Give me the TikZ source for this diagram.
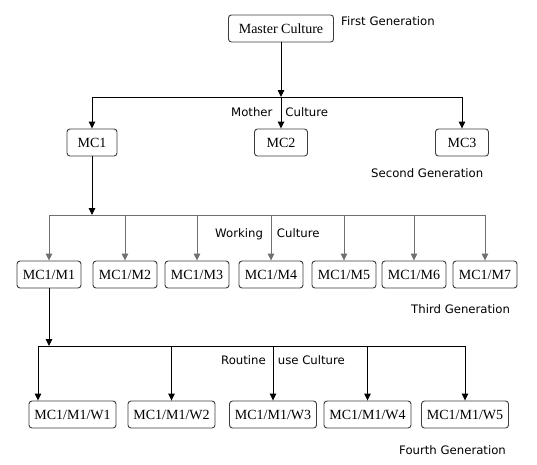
\documentclass[tikz,border=0pt]{standalone}
\usepackage{fontspec}
\setmainfont{Liberation Serif}
\newfontfamily\labelfont{DejaVu Sans}
\usetikzlibrary{arrows.meta, positioning}
\definecolor{BoxColor}{RGB}{60,60,60}
\definecolor{LinkColor}{RGB}{0,0,0}
\definecolor{GreyLinkColor}{RGB}{112,112,112}
\tikzstyle{culture} = [draw=BoxColor, rounded corners=3pt, minimum height=27pt, inner xsep=4pt, line width=0.9pt, font=\fontsize{14}{16}\selectfont]
\tikzstyle{link} = [line width=0.9pt, LinkColor, -{Triangle[width=6.5pt,length=7pt]}]
\tikzset{
  bus/.style={line width=0.9pt, LinkColor},
  greybus/.style={line width=0.9pt, GreyLinkColor},
  greylink/.style={link, GreyLinkColor},
  generation/.style={anchor=base west, inner sep=0pt, font=\labelfont\fontsize{11.7}{14}\selectfont}
}
\begin{document}
\begin{tikzpicture}[x=1pt, y=-1pt]
  \useasboundingbox (0,0) rectangle (537,464);

  % First generation
  \node[culture, minimum width=105pt] (master) at (281,28.5) {Master Culture};
  \node[generation] (gen1) at (341,25.5) {First Generation};

  % Second generation
  \node[culture, minimum width=50pt] (mc1) at (92,142.5) {MC1};
  \node[culture, minimum width=53pt] (mc2) at (281,142.5) {MC2};
  \node[culture, minimum width=53pt] (mc3) at (462,142.5) {MC3};
  \coordinate (bus1) at (281,97);
  \draw[link] (master) -- (bus1);
  \draw[bus] (mc1.north |- bus1) -- (mc3.north |- bus1);
  \foreach \n in {mc1,mc2,mc3}
    \draw[link] (\n.north |- bus1) -- (\n.north);
  \node[generation] (mother) at (231,116.5) {Mother\hspace{13pt}Culture};
  \node[generation] (gen2) at (371,177.5) {Second Generation};

  % Third generation
  \foreach \x [count=\i] in {49,125,197,271,344,414,485}
    \node[culture, minimum width=64pt] (m\i) at (\x,274.5) {MC1/M\i};
  \coordinate (bus2) at (92,215);
  \draw[link] (mc1) -- (bus2);
  \draw[greybus] (m1.north |- bus2) -- (m7.north |- bus2);
  \foreach \i in {1,...,7}
    \draw[greylink] (m\i.north |- bus2) -- (m\i.north);
  \node[generation] (working) at (215,237.5) {Working\hspace{14pt}Culture};
  \node[generation] (gen3) at (411,313) {Third Generation};

  % Fourth generation
  \foreach \x [count=\i] in {72.5,171.5,273,367.5,465}
    \node[culture, minimum width=87pt] (w\i) at (\x,414.5) {MC1/M1/W\i};
  \coordinate (bus3) at (49,346);
  \coordinate (drop1) at (38,346);
  \draw[link] (m1) -- (bus3);
  \draw[bus] (drop1) -- (w5.north |- bus3);
  \draw[link] (drop1) -- (drop1 |- w1.north);
  \foreach \i in {2,...,5}
    \draw[link] (w\i.north |- bus3) -- (w\i.north);
  \node[generation] (routine) at (221,364.5) {Routine\hspace{12pt}use Culture};
  \node[generation] (gen4) at (399,454.5) {Fourth Generation};
\end{tikzpicture}
\end{document}
